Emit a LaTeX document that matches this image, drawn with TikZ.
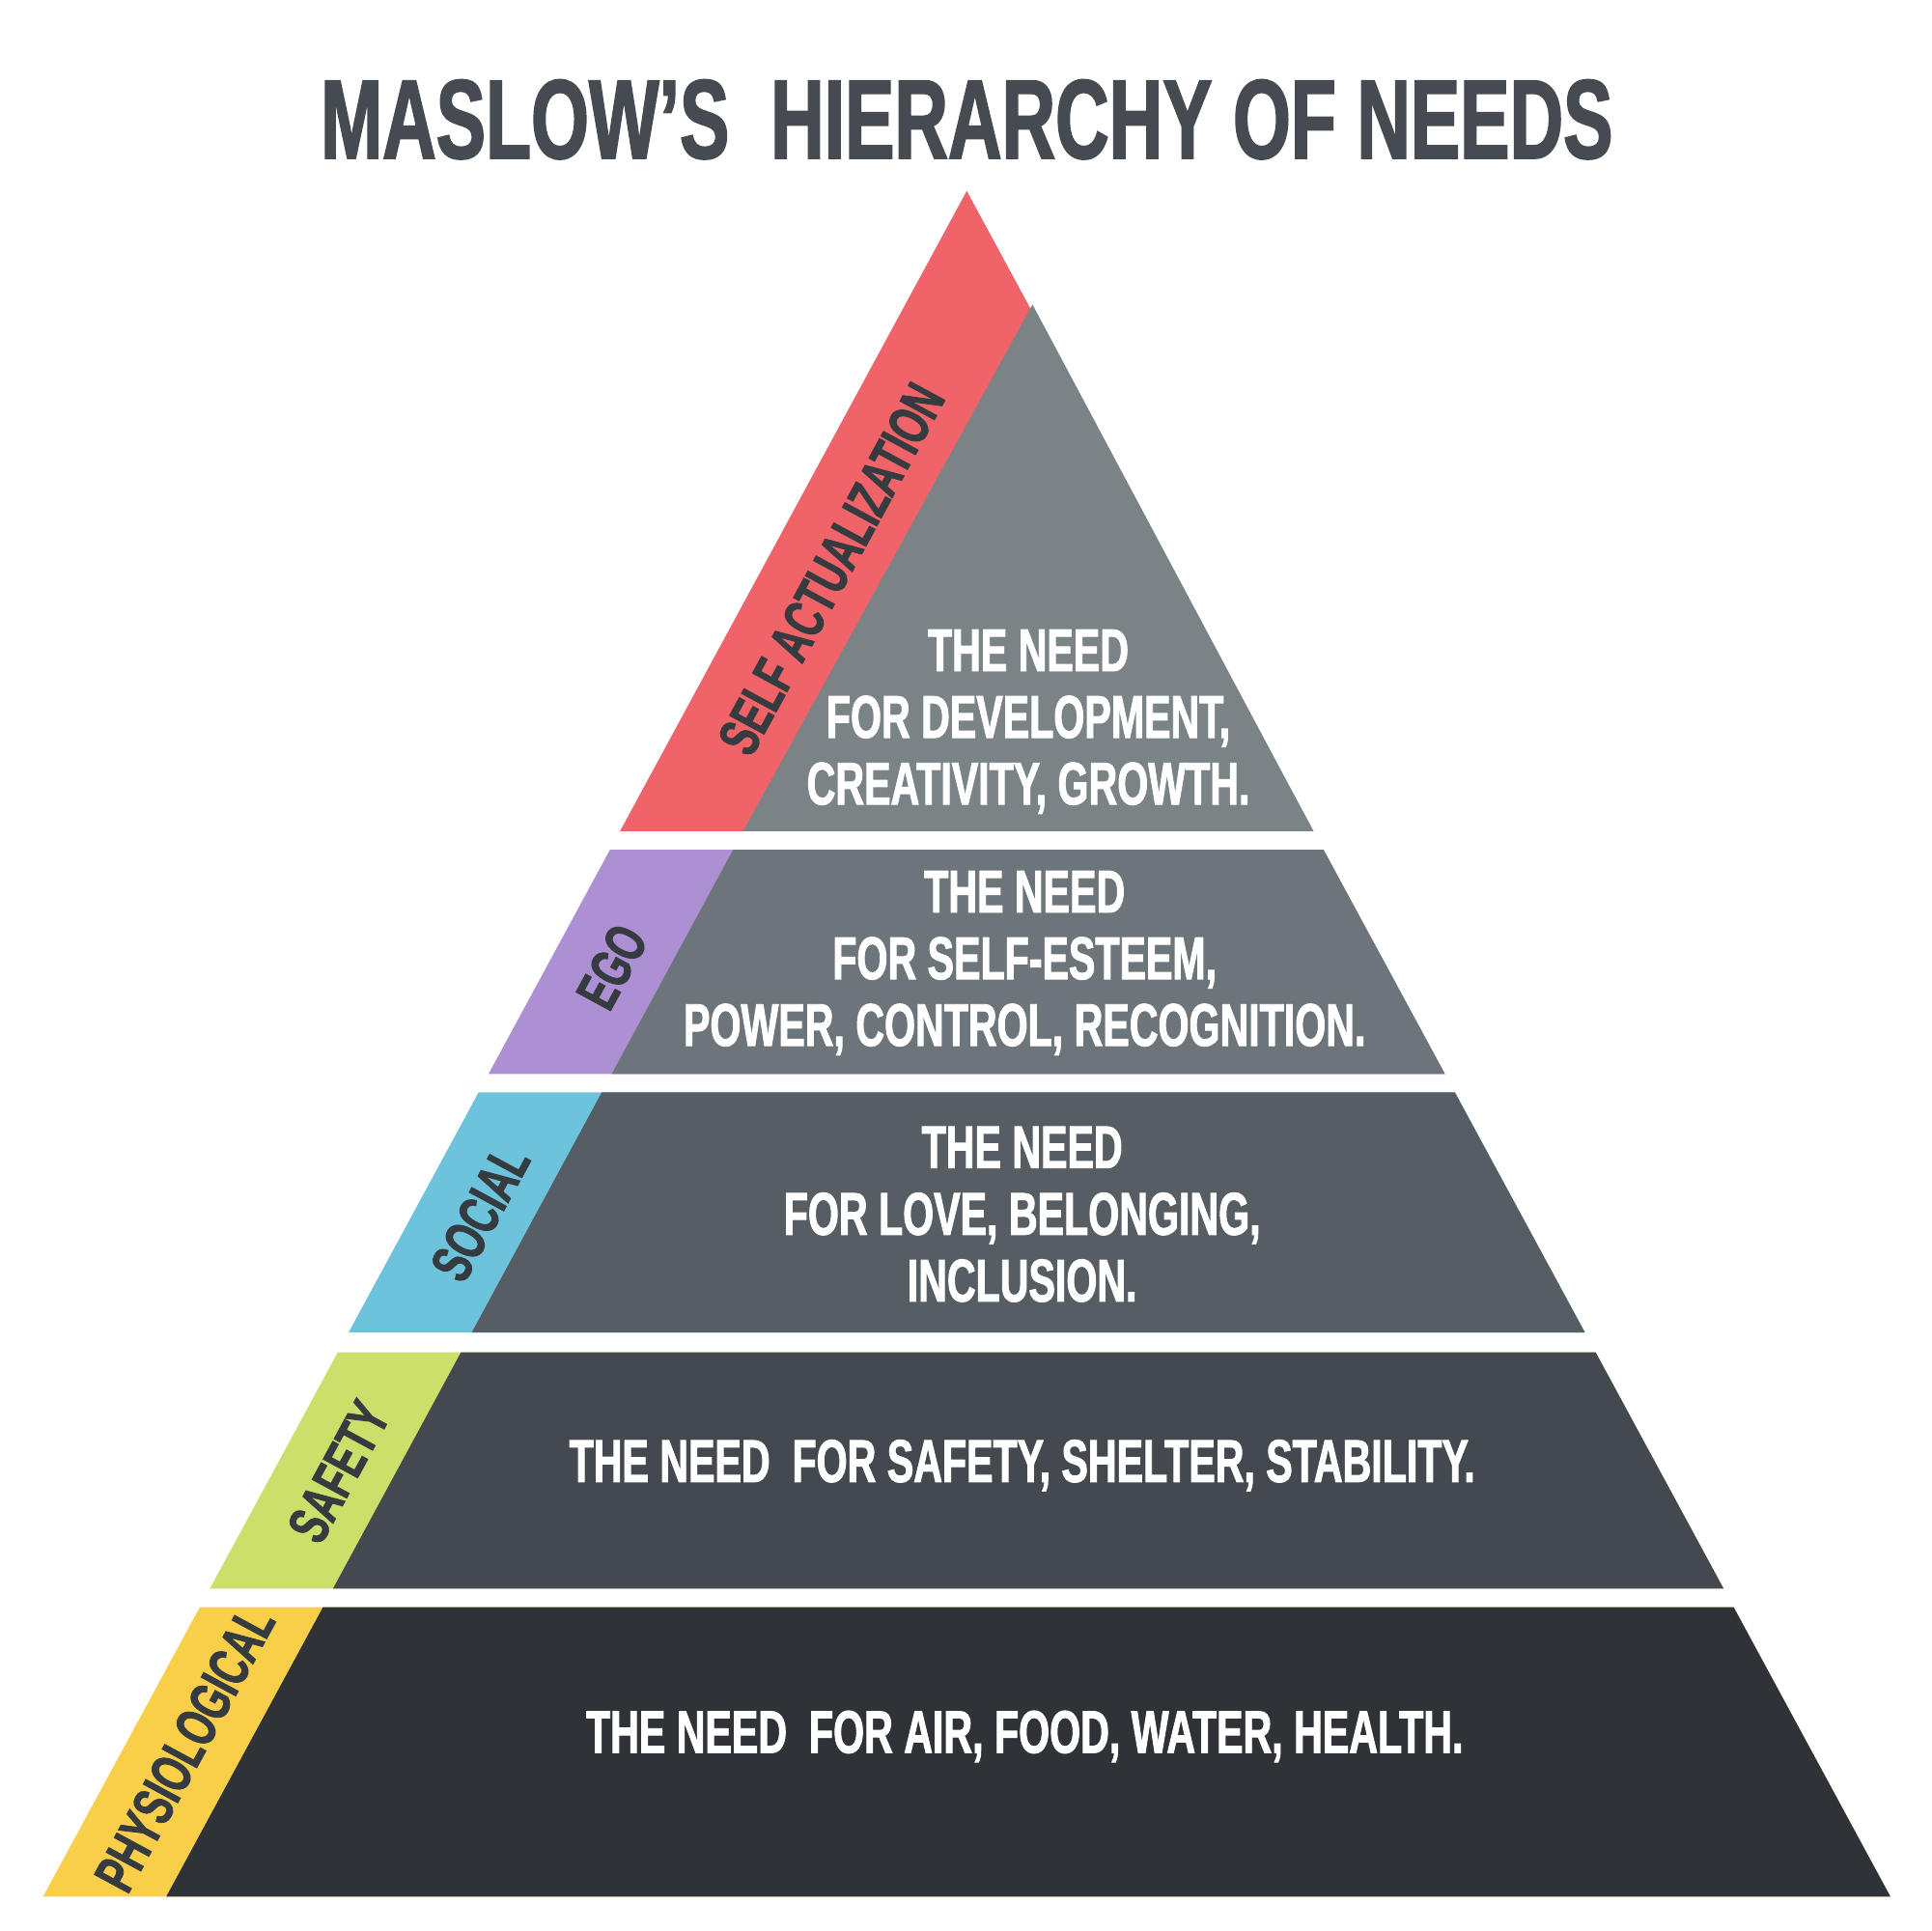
\documentclass[tikz,border=0pt]{standalone}
\usepackage{fontspec}
\setmainfont[FakeStretch=0.66,FakeBold=1.5]{Liberation Sans Bold}
\definecolor{cred}{HTML}{EF6369}
\definecolor{cpur}{HTML}{AD90D4}
\definecolor{cblu}{HTML}{6EC3DC}
\definecolor{cgrn}{HTML}{CCDF6A}
\definecolor{cyel}{HTML}{F9CF4A}
\definecolor{gA}{HTML}{7A8487}
\definecolor{gB}{HTML}{6C7579}
\definecolor{gC}{HTML}{565E63}
\definecolor{gD}{HTML}{43494E}
\definecolor{gE}{HTML}{2F3338}
\definecolor{ttl}{HTML}{454B50}
\definecolor{lbl}{HTML}{363B40}
\tikzset{
 body/.style={text=white,font=\fontsize{13.9}{15.4}\selectfont,align=center,inner sep=0pt},
 strip/.style={text=lbl,font=\fontsize{13.2}{14}\selectfont,rotate=61.56,inner sep=0pt},
}
\newcommand{\Lx}[1]{785-0.5415*(#1-155)}
\newcommand{\Rx}[1]{785+0.5415*(#1-155)}
\newcommand{\tier}[4]{%
 \fill[#3] ({\Lx{#1}},#1) -- ({\Rx{#1}},#1) -- ({\Rx{#2}},#2) -- ({\Lx{#2}},#2) -- cycle;
 \fill[#4] ({\Lx{#1}+100},#1) -- ({\Rx{#1}},#1) -- ({\Rx{#2}},#2) -- ({\Lx{#2}+100},#2) -- cycle;}
\begin{document}
\begin{tikzpicture}[x=0.01cm,y=-0.01cm]
\useasboundingbox[fill=white] (0,0) rectangle (1568,1568);
\fill[cred] (785,155) -- ({\Rx{675}},675) -- ({\Lx{675}},675) -- cycle;
\fill[gA] (838.4,247.3) -- ({\Rx{675}},675) -- ({\Lx{675}+100},675) -- cycle;
\tier{690}{872}{cpur}{gB}
\tier{887}{1082}{cblu}{gC}
\tier{1098}{1290}{cgrn}{gD}
\tier{1305}{1540}{cyel}{gE}
\node[text=ttl,font=\fontsize{26}{28}\selectfont] (title) at (785,97) {MASLOW’S\ \ HIERARCHY OF NEEDS};
\node[body] (t1) at (835,586) {THE NEED\\FOR DEVELOPMENT,\\CREATIVITY, GROWTH.};
\node[body] (t2) at (832,782) {THE NEED\\FOR SELF-ESTEEM,\\POWER, CONTROL, RECOGNITION.};
\node[body] (t3) at (830,986) {THE NEED\\FOR LOVE, BELONGING,\\INCLUSION.};
\node[body] (t4) at (830,1190) {THE NEED\ \ FOR SAFETY, SHELTER, STABILITY.};
\node[body] (t5) at (832,1410) {THE NEED\ \ FOR AIR, FOOD, WATER, HEALTH.};
\node[strip] (s1) at (675,462) {SELF ACTUALIZATION};
\node[strip] (s2) at (497,785) {EGO};
\node[strip] (s3) at (390,985) {SOCIAL};
\node[strip] (s4) at (275,1195) {SAFETY};
\node[strip] (s5) at (150,1420) {PHYSIOLOGICAL};
\end{tikzpicture}
\end{document}
